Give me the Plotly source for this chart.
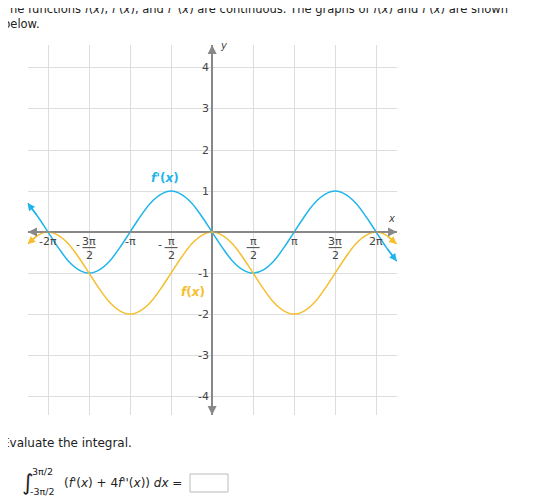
import numpy as np
import plotly.graph_objects as go

# x positions in units of pi/8
k_vals = list(range(-18, 19))
f_pos = [0, -0.08, -0.29, -0.62, -1, -1.38, -1.71, -1.92, -2, -1.92, -1.71, -1.38, -1, -0.62, -0.29, -0.08, 0, -0.08, -0.29]
fp_pos = [0, -0.38, -0.71, -0.92, -1, -0.92, -0.71, -0.38, 0, 0.38, 0.71, 0.92, 1, 0.92, 0.71, 0.38, 0, -0.38, -0.71]
f_vals = f_pos[:0:-1] + f_pos
fp_vals = [-v for v in fp_pos[:0:-1]] + fp_pos

x_vals = [k * np.pi / 8 for k in k_vals]
BLUE = '#1fb5ea'
YELLOW = '#f5be2c'
GRAY = '#888888'
FONT = 'DejaVu Sans'

# page has an 8px body margin, so the figure is drawn 8px in
OFF = 8
W, H = 536 - OFF, 499 - OFF
L, R, T, B = 28 - OFF, 397 - OFF, 45 - OFF, 415 - OFF
def px(p):
    return (p - OFF - L) / (R - L)
def py(q):
    return (B - (q - OFF)) / (B - T)

fig = go.Figure()
fig.add_trace(go.Scatter(x=x_vals, y=fp_vals, mode='lines', line=dict(color=BLUE, width=1.5, shape='spline'), hoverinfo='skip'))
fig.add_trace(go.Scatter(x=x_vals, y=f_vals, mode='lines', line=dict(color=YELLOW, width=1.5, shape='spline'), hoverinfo='skip'))

ann = []
# curve end arrows
for xs, ys, c in [(x_vals, fp_vals, BLUE), (x_vals, f_vals, YELLOW)]:
    for i, j in [(0, 1), (-1, -2)]:
        ann.append(dict(x=xs[i], y=ys[i], ax=xs[j], ay=ys[j], xref='x', yref='y', axref='x', ayref='y',
                        showarrow=True, arrowhead=2, arrowsize=1, arrowwidth=1.5, arrowcolor=c, text=''))
# axis arrows
xmin, xmax, ymin, ymax = -7.05, 7.08, -4.46, 4.56
for (x0, y0, x1, y1) in [(xmax, 0, 0, 0), (xmin, 0, 0, 0), (0, ymax, 0, 0), (0, ymin, 0, 0)]:
    ann.append(dict(x=x0, y=y0, ax=x1, ay=y1, xref='x', yref='y', axref='x', ayref='y',
                    showarrow=True, arrowhead=2, arrowsize=1.2, arrowwidth=1.5, arrowcolor=GRAY, text=''))

# y tick labels
for v in [4, 3, 2, 1, -1, -2, -3, -4]:
    ann.append(dict(x=0, y=v, xref='x', yref='y', text=str(v), showarrow=False, xanchor='right', xshift=-1,
                    font=dict(family=FONT, size=11, color='#444')))
# x tick labels
x_single = {-4: '-2π', -2: '-π', 2: 'π', 4: '2π'}
for m, t in x_single.items():
    ann.append(dict(x=m * np.pi / 2, y=0, xref='x', yref='y', text=t, showarrow=False, yanchor='top', yshift=-1,
                    font=dict(family=FONT, size=11, color='#444')))
x_frac = {-3: ('3π', '-'), -1: ('π', '-'), 1: ('π', ''), 3: ('3π', '')}
shapes = []
for m, (num, sgn) in x_frac.items():
    xc = m * np.pi / 2
    ann.append(dict(x=xc, y=0, xref='x', yref='y', text=num, showarrow=False, yanchor='top', yshift=-1,
                    font=dict(family=FONT, size=11, color='#444')))
    ann.append(dict(x=xc, y=0, xref='x', yref='y', text='2', showarrow=False, yanchor='top', yshift=-15,
                    font=dict(family=FONT, size=11, color='#444')))
    if sgn:
        ann.append(dict(x=xc, y=0, xref='x', yref='y', text='-', showarrow=False, yanchor='top', xshift=-11, yshift=-4,
                        font=dict(family=FONT, size=11, color='#444')))
    shapes.append(dict(type='line', xref='x', yref='y', x0=xc - 0.25, x1=xc + 0.25, y0=-0.38, y1=-0.38,
                       line=dict(color='#444', width=1)))

ann.append(dict(x=0, y=ymax, xref='x', yref='y', text='<i>y</i>', showarrow=False, xanchor='left', yanchor='bottom', xshift=6, yshift=-8,
                font=dict(family=FONT, size=10, color='#444')))
ann.append(dict(x=xmax, y=0, xref='x', yref='y', text='<i>x</i>', showarrow=False, xanchor='right', yanchor='bottom', yshift=6,
                font=dict(family=FONT, size=10, color='#444')))
ann.append(dict(x=-1.8, y=1.32, xref='x', yref='y', text="<b><i>f'</i>(<i>x</i>)</b>", showarrow=False,
                font=dict(family=FONT, size=12, color=BLUE)))
ann.append(dict(x=-0.73, y=-1.46, xref='x', yref='y', text="<b><i>f</i>(<i>x</i>)</b>", showarrow=False,
                font=dict(family=FONT, size=12, color=YELLOW)))

# surrounding text
ann.append(dict(x=px(0), y=py(0), xref='paper', yref='paper', xanchor='left', yanchor='top', align='left', showarrow=False,
                text="The functions <i>f</i>(<i>x</i>), <i>f</i>'(<i>x</i>), and <i>f</i>''(<i>x</i>) are continuous. The graphs of <i>f</i>(<i>x</i>) and <i>f</i>'(<i>x</i>) are shown<br>below.",
                font=dict(family=FONT, size=11.5, color='#222')))
ann.append(dict(x=px(0), y=py(443), xref='paper', yref='paper', xanchor='left', yanchor='middle', showarrow=False,
                text="Evaluate the integral.", font=dict(family=FONT, size=12, color='#222')))
ann.append(dict(x=px(20), y=py(482), xref='paper', yref='paper', xanchor='left', yanchor='middle', showarrow=False,
                text="∫", font=dict(family=FONT, size=22, color='#222')))
ann.append(dict(x=px(30), y=py(471), xref='paper', yref='paper', xanchor='left', yanchor='middle', showarrow=False,
                text="3π/2", font=dict(family=FONT, size=9.5, color='#222')))
ann.append(dict(x=px(28), y=py(491), xref='paper', yref='paper', xanchor='left', yanchor='middle', showarrow=False,
                text="-3π/2", font=dict(family=FONT, size=9.5, color='#222')))
ann.append(dict(x=px(62), y=py(483), xref='paper', yref='paper', xanchor='left', yanchor='middle', showarrow=False,
                text="(<i>f</i>'(<i>x</i>) + 4<i>f</i>''(<i>x</i>)) <i>dx</i> =", font=dict(family=FONT, size=12, color='#222')))
shapes.append(dict(type='rect', xref='paper', yref='paper', x0=px(190), x1=px(228), y0=py(492), y1=py(474),
                   line=dict(color='#bbbbbb', width=1)))

fig.update_layout(
    width=W, height=H, margin=dict(l=L, r=W - R, t=T, b=H - B),
    plot_bgcolor='white', paper_bgcolor='white', showlegend=False,
    annotations=ann, shapes=shapes,
    xaxis=dict(range=[xmin, xmax], tickvals=[m * np.pi / 2 for m in range(-4, 5)], showticklabels=False,
               showgrid=True, gridcolor='#dddddd', zeroline=True, zerolinecolor=GRAY, zerolinewidth=1.5, fixedrange=True),
    yaxis=dict(range=[ymin, ymax], tickvals=list(range(-4, 5)), showticklabels=False,
               showgrid=True, gridcolor='#dddddd', zeroline=True, zerolinecolor=GRAY, zerolinewidth=1.5, fixedrange=True),
)
fig.write_html("out.html")
